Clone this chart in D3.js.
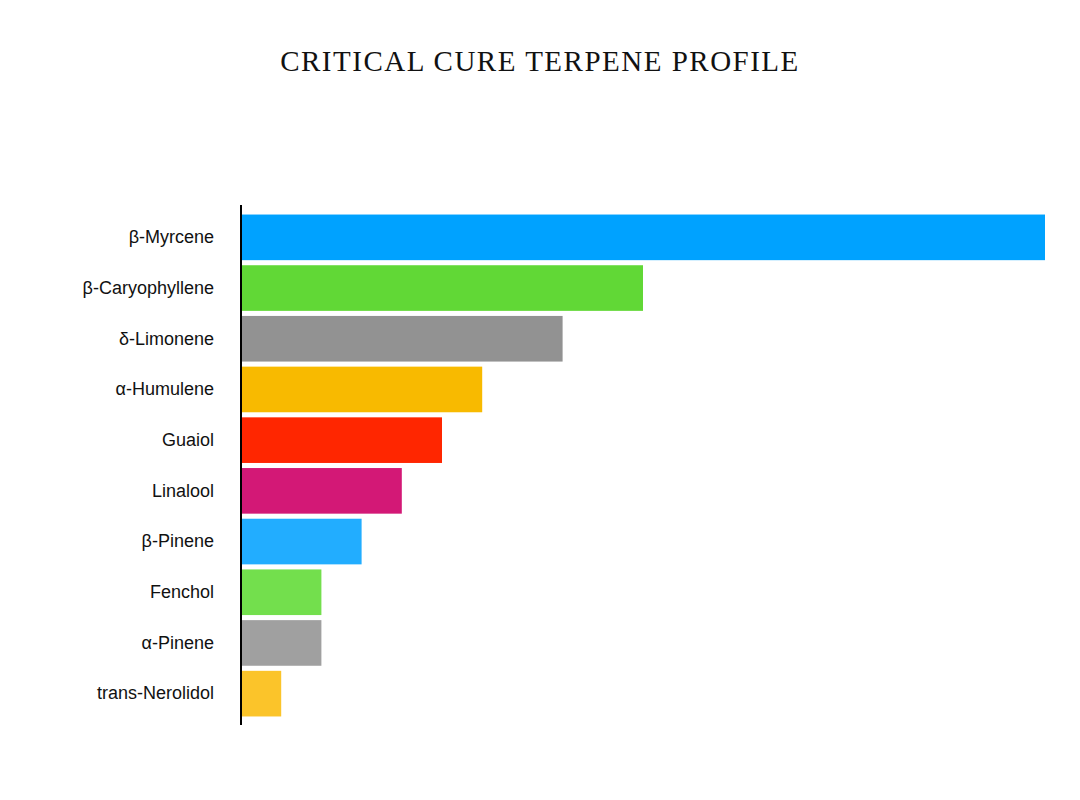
<!DOCTYPE html>
<html>
<head>
<meta charset="utf-8">
<script src="https://cdn.jsdelivr.net/npm/d3@7"></script>
<style>
  body { margin: 0; background: #fff; }
</style>
</head>
<body>
<div id="chart"></div>
<script>
const terpenes = ["β-Myrcene", "β-Caryophyllene", "δ-Limonene", "α-Humulene", "Guaiol", "Linalool", "β-Pinene", "Fenchol", "α-Pinene", "trans-Nerolidol"];
const amounts = [20, 10, 8, 6, 5, 4, 3, 2, 2, 1];
const barColors = ["#00a2ff", "#61d836", "#929292", "#f8ba00", "#ff2600", "#d31876", "#22adff", "#73df4d", "#a0a0a0", "#fbc42a"];

const svgWidth = 1080, svgHeight = 800;
const plotLeft = 241, plotRight = 1045, plotTop = 212, plotBottom = 719;

const svg = d3.select("#chart").append("svg")
  .attr("width", svgWidth)
  .attr("height", svgHeight);

svg.append("text")
  .attr("x", 540).attr("y", 71)
  .attr("text-anchor", "middle")
  .attr("font-family", "'Liberation Serif', 'DejaVu Serif', serif")
  .attr("font-size", 29)
  .attr("letter-spacing", 1.5)
  .attr("fill", "#111")
  .text("CRITICAL CURE  TERPENE PROFILE");

const xScale = d3.scaleLinear().domain([0, 20]).range([plotLeft, plotRight]);
const yScale = d3.scaleBand().domain(terpenes).range([plotTop, plotBottom]).paddingInner(0.1).paddingOuter(0.05);

svg.selectAll("rect.bar").data(terpenes).enter().append("rect")
  .attr("class", "bar")
  .attr("x", xScale(0))
  .attr("y", d => yScale(d))
  .attr("width", (d, i) => xScale(amounts[i]) - xScale(0))
  .attr("height", yScale.bandwidth())
  .attr("fill", (d, i) => barColors[i]);

const yAxis = svg.append("g")
  .attr("transform", `translate(${plotLeft},0)`)
  .call(d3.axisLeft(yScale).tickSize(0).tickPadding(27).tickSizeOuter(0));
yAxis.select(".domain").attr("stroke", "#000").attr("stroke-width", 2)
  .attr("d", "M0,205V725");
yAxis.selectAll("text")
  .attr("font-family", "'Liberation Sans', Arial, sans-serif")
  .attr("font-size", 18)
  .attr("fill", "#111");
</script>
</body>
</html>
